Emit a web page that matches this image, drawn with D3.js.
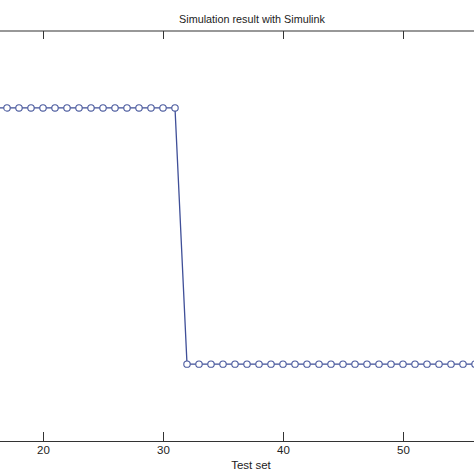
<html>
<head>
<meta http-equiv="Content-Type" content="text/html; charset=utf-8" />
<title>Simulation result with Simulink</title>
<script src="https://cdn.jsdelivr.net/npm/d3@7"></script>
<style type="text/css">
	body{
		margin: 0;
		background: #fff;
		overflow: hidden;
	}
	svg text{
		font-family: Arial, "Liberation Sans", sans-serif;
		fill: #222;
	}
</style>
</head>
<body>
<div id="chart"></div>
<script type="text/javascript">
	// test set index and simulated output (step between 31 and 32)
	var testSet = d3.range(1, 61);
	var output = testSet.map(function(d){ return d <= 31 ? 1 : 0; });
	var xTicks = [20, 30, 40, 50];
	var title = "Simulation result with Simulink";
	var xLabel = "Test set";

	var W = 474, H = 474;
	var plotTop = 31, plotBottom = 441;

	var svg = d3.select('#chart')
	.append('svg')
	.attr('width', W)
	.attr('height', H);

	// the plot is cropped on the left, so x(0) lies outside the picture
	var x = d3.scaleLinear().domain([0, 60]).range([-197, 523]);
	var y = d3.scaleLinear().domain([-0.3, 1.3]).range([plotBottom, plotTop]);

	// box lines
	svg.append('line')
	.attr('x1', 0).attr('x2', W)
	.attr('y1', plotTop).attr('y2', plotTop)
	.attr('stroke', '#333').attr('stroke-width', 1.2);

	var xAxis = svg.append('g')
	.attr('transform', 'translate(0,' + plotBottom + ')')
	.call(d3.axisBottom(x).tickValues(xTicks).tickSizeInner(-9).tickSizeOuter(0).tickPadding(5));
	xAxis.select('.domain').attr('stroke', '#333').attr('stroke-width', 1.2);
	xAxis.selectAll('.tick line').attr('stroke', '#333');
	xAxis.selectAll('.tick text').attr('font-size', 11.5).attr('fill', '#222');

	var xTop = svg.append('g')
	.attr('transform', 'translate(0,' + plotTop + ')')
	.call(d3.axisTop(x).tickValues(xTicks).tickSizeInner(-8).tickSizeOuter(0).tickFormat(''));
	xTop.select('.domain').remove();
	xTop.selectAll('.tick line').attr('stroke', '#333');

	var line = d3.line()
	.x(function(d, i){ return x(testSet[i]); })
	.y(function(d){ return y(d); });

	svg.append('path')
	.datum(output)
	.attr('d', line)
	.attr('fill', 'none')
	.attr('stroke', '#3f4f98')
	.attr('stroke-width', 1.3);

	svg.selectAll('circle')
	.data(output)
	.enter()
	.append('circle')
	.attr('cx', function(d, i){ return x(testSet[i]); })
	.attr('cy', function(d){ return y(d); })
	.attr('r', 3.2)
	.attr('fill', '#fff')
	.attr('stroke', '#4a5a9e')
	.attr('stroke-width', 1.1);

	svg.append('text')
	.attr('x', 252).attr('y', 23)
	.attr('text-anchor', 'middle')
	.attr('font-size', 10.8)
	.text(title);

	svg.append('text')
	.attr('x', 251).attr('y', 469)
	.attr('text-anchor', 'middle')
	.attr('font-size', 11.5)
	.text(xLabel);
</script>
</body>
</html>
